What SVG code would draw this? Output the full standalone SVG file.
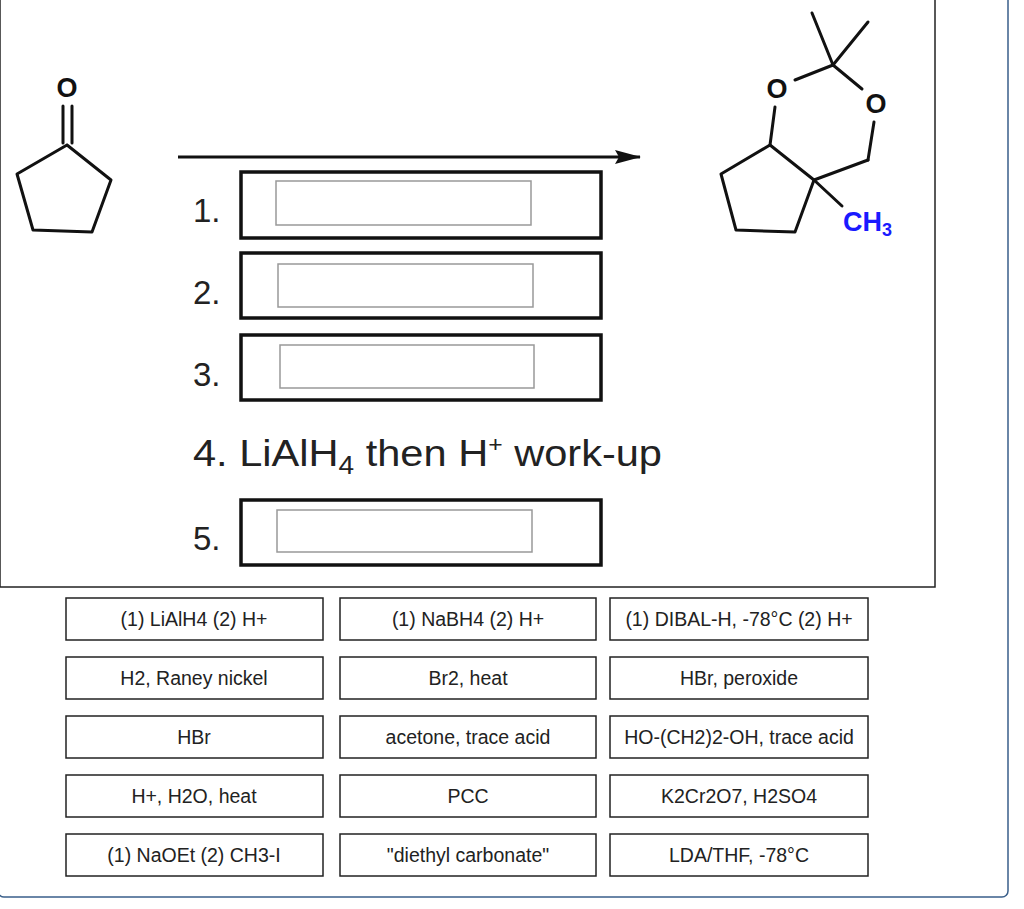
<svg xmlns="http://www.w3.org/2000/svg" width="1024" height="909" viewBox="0 0 1024 909">
<style>
.b{fill:none;stroke:#111;stroke-width:3;stroke-linejoin:round;stroke-linecap:round}
.ob{fill:#fff;stroke:#111;stroke-width:3.5}
.ib{fill:#fff;stroke:#999;stroke-width:1.5}
.ch{fill:#fff;stroke:#222;stroke-width:1.5}
.t{font-family:"Liberation Sans",Arial,sans-serif;fill:#222}
.n{font-size:33px}
.c{font-size:19.5px;text-anchor:middle}
.at{font-family:"Liberation Sans",Arial,sans-serif;font-weight:bold;font-size:27px;text-anchor:middle}
</style>
<defs><marker id="ah" markerWidth="26" markerHeight="14" refX="25" refY="7" orient="auto" markerUnits="userSpaceOnUse" viewBox="0 0 26 14"><path d="M0,0L26,7L0,14L4,7z" fill="#111"/></marker></defs>
<rect x="-2" y="-10" width="1010" height="907" rx="6" fill="#fff" stroke="#3a5f8a" stroke-width="1.5"/>
<rect x="0" y="-2" width="935" height="589" fill="#fff" stroke="#222" stroke-width="1.5"/>
<g id="reactant">
<polyline class="b" points="67,145 111,180 92,232 33,230 17,174 67,145"/>
<line class="b" x1="63" y1="106" x2="63" y2="143"/><line class="b" x1="72" y1="106" x2="72" y2="143"/>
<text class="at" x="67" y="97" fill="#111">O</text>
</g>
<g id="product">
<polyline class="b" points="770,145 814,180 795,232 736,230 721,174 770,145"/>
<line class="b" x1="770" y1="145" x2="775" y2="107"/>
<line class="b" x1="795" y1="80" x2="833" y2="65"/>
<line class="b" x1="833" y1="65" x2="812" y2="13"/>
<line class="b" x1="833" y1="65" x2="868" y2="22"/>
<line class="b" x1="833" y1="65" x2="862" y2="89"/>
<line class="b" x1="874" y1="122" x2="868" y2="160"/>
<line class="b" x1="868" y1="160" x2="814" y2="180"/>
<line class="b" x1="814" y1="180" x2="842" y2="206"/>
<text class="at" x="777" y="98" fill="#111">O</text>
<text class="at" x="876" y="113" fill="#111">O</text>
<text x="843" y="231" font-family="Liberation Sans,Arial,sans-serif" font-weight="bold" font-size="27" fill="#1a1aff">CH<tspan font-size="18" dy="5">3</tspan></text>
</g>
<g id="connectors"><line x1="178" y1="157" x2="640" y2="157" stroke="#111" stroke-width="3" marker-end="url(#ah)"/></g>
<g id="steps">
<text class="t n" x="193" y="222">1.</text>
<rect class="ob" x="241" y="172" width="360" height="66"/><rect class="ib" x="276" y="181" width="255" height="44"/>
<text class="t n" x="193" y="304">2.</text>
<rect class="ob" x="241" y="253" width="360" height="65"/><rect class="ib" x="278" y="264" width="255" height="43"/>
<text class="t n" x="193" y="386">3.</text>
<rect class="ob" x="241" y="335" width="360" height="65"/><rect class="ib" x="280" y="345" width="254" height="43"/>
<text class="t" x="193" y="466" font-size="37" textLength="469" lengthAdjust="spacingAndGlyphs">4. LiAlH<tspan font-size="25" dy="8">4</tspan><tspan dy="-8"> then H</tspan><tspan font-size="22" dy="-14">+</tspan><tspan dy="14"> work-up</tspan></text>
<text class="t n" x="193" y="550">5.</text>
<rect class="ob" x="241" y="500" width="360" height="65"/><rect class="ib" x="277" y="510" width="255" height="42"/>
</g>
<g id="choices">
<rect class="ch" x="66" y="598" width="257" height="42"/><text class="t c" x="194" y="626">(1) LiAlH4 (2) H+</text>
<rect class="ch" x="340" y="598" width="256" height="42"/><text class="t c" x="468" y="626">(1) NaBH4 (2) H+</text>
<rect class="ch" x="610" y="598" width="258" height="42"/><text class="t c" x="739" y="626">(1) DIBAL-H, -78°C (2) H+</text>
<rect class="ch" x="66" y="657" width="257" height="42"/><text class="t c" x="194" y="685">H2, Raney nickel</text>
<rect class="ch" x="340" y="657" width="256" height="42"/><text class="t c" x="468" y="685">Br2, heat</text>
<rect class="ch" x="610" y="657" width="258" height="42"/><text class="t c" x="739" y="685">HBr, peroxide</text>
<rect class="ch" x="66" y="716" width="257" height="42"/><text class="t c" x="194" y="744">HBr</text>
<rect class="ch" x="340" y="716" width="256" height="42"/><text class="t c" x="468" y="744">acetone, trace acid</text>
<rect class="ch" x="610" y="716" width="258" height="42"/><text class="t c" x="739" y="744">HO-(CH2)2-OH, trace acid</text>
<rect class="ch" x="66" y="775" width="257" height="42"/><text class="t c" x="194" y="803">H+, H2O, heat</text>
<rect class="ch" x="340" y="775" width="256" height="42"/><text class="t c" x="468" y="803">PCC</text>
<rect class="ch" x="610" y="775" width="258" height="42"/><text class="t c" x="739" y="803">K2Cr2O7, H2SO4</text>
<rect class="ch" x="66" y="834" width="257" height="42"/><text class="t c" x="194" y="862">(1) NaOEt (2) CH3-I</text>
<rect class="ch" x="340" y="834" width="256" height="42"/><text class="t c" x="468" y="862">"diethyl carbonate"</text>
<rect class="ch" x="610" y="834" width="258" height="42"/><text class="t c" x="739" y="862">LDA/THF, -78°C</text>
</g>
</svg>
